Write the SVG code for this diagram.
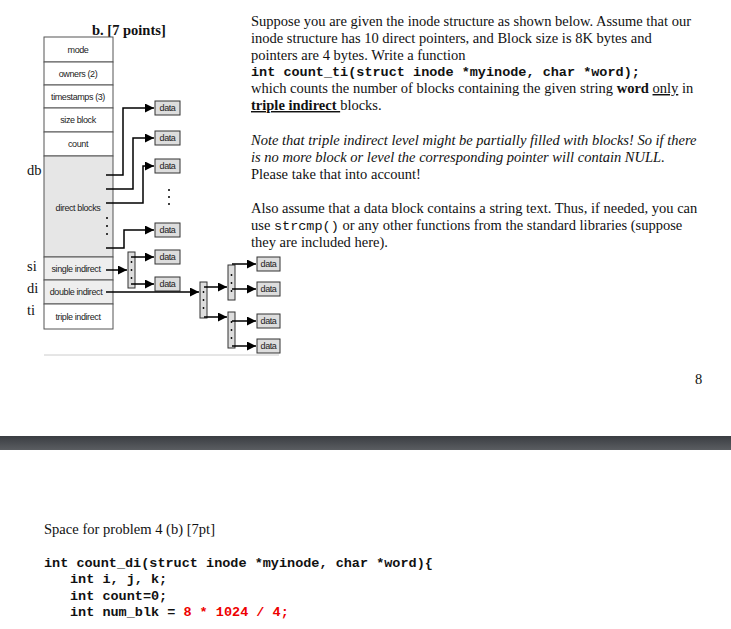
<svg xmlns="http://www.w3.org/2000/svg" width="731" height="629" viewBox="0 0 731 629">
<defs>
<marker id="ah" viewBox="0 0 10 10" refX="10" refY="5" markerWidth="6" markerHeight="6" orient="auto"><path d="M0,0L10,5L0,10z" fill="#000"/></marker>
<linearGradient id="band" x1="0" y1="0" x2="0" y2="1"><stop offset="0" stop-color="#3a3d42"/><stop offset="1" stop-color="#5a5d61"/></linearGradient>
</defs>
<style>
.cell{fill:#fff;stroke:#555;stroke-width:1}
.sl{font-family:"Liberation Sans Narrow","Liberation Sans",sans-serif;font-size:9px;fill:#222;text-anchor:middle;letter-spacing:-0.4px}
.data{fill:#ddd;stroke:#333;stroke-width:1}
.idx{fill:#ddd;stroke:#333;stroke-width:1}
.c{fill:none;stroke:#000;stroke-width:1.5}
.a{marker-end:url(#ah)}
.t{font-family:"Liberation Serif",serif;font-size:14.5px;fill:#111}
.m{font-family:"Liberation Mono",monospace;font-size:13.5px;font-weight:bold;fill:#111}
.dot{fill:#000}
</style>
<rect width="731" height="629" fill="#fff"/>
<text x="92" y="35" class="t" font-weight="bold">b.  [7 points]</text>
<g id="inode">
<rect class="cell" x="44" y="37" width="69" height="25"/>
<rect class="cell" x="44" y="62" width="69" height="23"/>
<rect class="cell" x="44" y="85" width="69" height="23"/>
<rect class="cell" x="44" y="108" width="69" height="24"/>
<rect class="cell" x="44" y="132" width="69" height="24"/>
<rect x="44" y="156" width="69" height="101" fill="#e6e6e6" stroke="#555"/>
<rect x="44" y="257" width="69" height="23" fill="#eee" stroke="#555"/>
<rect x="44" y="280" width="69" height="24" fill="#eee" stroke="#555"/>
<rect class="cell" x="44" y="304" width="69" height="25"/>
<text class="sl" x="78" y="53">mode</text>
<text class="sl" x="78" y="77">owners (2)</text>
<text class="sl" x="78" y="100">timestamps (3)</text>
<text class="sl" x="78" y="123">size block</text>
<text class="sl" x="78" y="147">count</text>
<text class="sl" x="78" y="211">direct blocks</text>
<text class="sl" x="76" y="272">single indirect</text>
<text class="sl" x="76" y="295">double indirect</text>
<text class="sl" x="78" y="320">triple indirect</text>
<circle class="dot" cx="107" cy="218" r="1"/><circle class="dot" cx="107" cy="226" r="1"/><circle class="dot" cx="107" cy="234" r="1"/>
</g>
<g id="labels" font-family="Liberation Serif,serif" font-size="14.5px" fill="#111">
<text x="27" y="175">db</text><text x="27" y="271">si</text><text x="27" y="293">di</text><text x="27" y="315">ti</text>
</g>
<g id="blocks">
<rect class="data" x="155" y="101" width="25" height="14"/>
<rect class="data" x="155" y="131" width="25" height="14"/>
<rect class="data" x="155" y="159" width="25" height="14"/>
<rect class="data" x="155" y="223" width="25" height="14"/>
<rect class="data" x="155" y="250" width="25" height="14"/>
<rect class="data" x="155" y="277" width="25" height="14"/>
<rect class="data" x="257" y="257" width="23" height="14"/>
<rect class="data" x="257" y="282" width="23" height="14"/>
<rect class="data" x="257" y="314" width="23" height="14"/>
<rect class="data" x="257" y="339" width="23" height="14"/>
<g class="sl" font-size="8.5px"><text x="167.5" y="111">data</text><text x="167.5" y="141">data</text><text x="167.5" y="169">data</text><text x="167.5" y="233">data</text><text x="167.5" y="260">data</text><text x="167.5" y="287">data</text><text x="268.5" y="267">data</text><text x="268.5" y="292">data</text><text x="268.5" y="324">data</text><text x="268.5" y="349">data</text></g>
<circle class="dot" cx="169" cy="190" r="1"/><circle class="dot" cx="169" cy="197" r="1"/><circle class="dot" cx="169" cy="204" r="1"/>
<rect class="idx" x="128" y="252" width="7" height="36"/>
<rect class="idx" x="200" y="282" width="7" height="36"/>
<rect class="idx" x="228" y="265" width="7" height="35"/>
<rect class="idx" x="228" y="312" width="7" height="36"/>
<g class="dot"><circle cx="131.5" cy="262" r="0.9"/><circle cx="131.5" cy="270" r="0.9"/><circle cx="131.5" cy="278" r="0.9"/><circle cx="203.5" cy="292" r="0.9"/><circle cx="203.5" cy="300" r="0.9"/><circle cx="203.5" cy="308" r="0.9"/><circle cx="231.5" cy="275" r="0.9"/><circle cx="231.5" cy="283" r="0.9"/><circle cx="231.5" cy="291" r="0.9"/><circle cx="231.5" cy="322" r="0.9"/><circle cx="231.5" cy="330" r="0.9"/><circle cx="231.5" cy="338" r="0.9"/></g>
</g>
<g id="connectors">
<path class="c a" d="M106,175H123V108H154"/>
<path class="c a" d="M106,189H133V138H154"/>
<path class="c a" d="M106,203H143V166H154"/>
<path class="c a" d="M106,248H124V230H154"/>
<path class="c a" d="M106,270H127"/>
<path class="c a" d="M131,257H154"/>
<path class="c a" d="M131,284H154"/>
<path class="c a" d="M106,292H199"/>
<path class="c a" d="M204,287H227"/>
<path class="c a" d="M204,317H227"/>
<path class="c a" d="M232,264H256"/>
<path class="c a" d="M232,289H256"/>
<path class="c a" d="M232,321H256"/>
<path class="c a" d="M232,346H256"/>
</g>
<line x1="44" y1="355" x2="279" y2="355" stroke="#ccc" stroke-width="1"/>
<g id="text">
<text class="t" x="251" y="26">Suppose you are given the inode structure as shown below. Assume that our</text>
<text class="t" x="251" y="43">inode structure has 10 direct pointers, and Block size is 8K bytes and</text>
<text class="t" x="251" y="60">pointers are 4 bytes. Write a function</text>
<text class="m" x="251" y="76">int count_ti(struct inode *myinode, char *word);</text>
<text class="t" x="251" y="93">which counts the number of blocks containing the given string <tspan font-weight="bold">word</tspan> <tspan text-decoration="underline">only</tspan> in</text>
<text class="t" x="251" y="110"><tspan font-weight="bold" text-decoration="underline">triple indirect </tspan>blocks.</text>
<text class="t" x="251" y="145" font-style="italic">Note that triple indirect level might be partially filled with blocks! So if there</text>
<text class="t" x="251" y="162" font-style="italic">is no more block or level the corresponding pointer will contain NULL.</text>
<text class="t" x="251" y="179">Please take that into account!</text>
<text class="t" x="251" y="213">Also assume that a data block contains a string text. Thus, if needed, you can</text>
<text class="t" x="251" y="230">use <tspan font-family="Liberation Mono,monospace" font-size="13.5px">strcmp()</tspan> or any other functions from the standard libraries (suppose</text>
<text class="t" x="251" y="247">they are included here).</text>
<text class="t" x="695" y="384">8</text>
</g>
<rect x="0" y="436" width="731" height="14" fill="url(#band)"/>
<text class="t" x="44" y="534" textLength="171" lengthAdjust="spacingAndGlyphs">Space for problem 4 (b) [7pt]</text>
<g font-family="Liberation Mono,monospace" font-weight="bold" font-size="13.5px" fill="#111">
<text x="44" y="567">int count_di(struct inode *myinode, char *word){</text>
<text x="70" y="583">int i, j, k;</text>
<text x="70" y="600">int count=0;</text>
<text x="70" y="616">int num_blk =  <tspan fill="#e00">8 * 1024 / 4;</tspan></text>
</g>
</svg>
